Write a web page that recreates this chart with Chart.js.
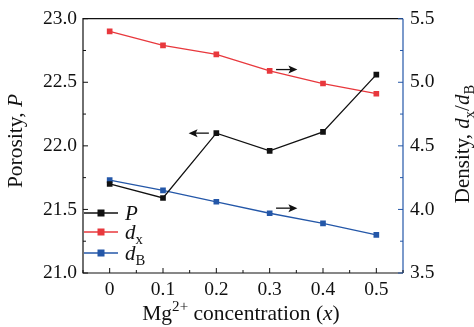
<!DOCTYPE html>
<html>
<head>
<meta charset="utf-8">
<script src="https://cdn.jsdelivr.net/npm/chart.js@4.4.0/dist/chart.umd.min.js"></script>
<style>
  html, body { margin: 0; padding: 0; background: #fff; }
  #wrap { width: 474px; height: 327px; position: relative; }
</style>
</head>
<body>
<div id="wrap"><canvas id="porosity"></canvas></div>
<script>
let concentration = [0, 0.1, 0.2, 0.3, 0.4, 0.5];
let porosity = [21.70, 21.59, 22.10, 21.96, 22.11, 22.56];
let densityX = [5.40, 5.29, 5.22, 5.09, 4.99, 4.91];
let densityB = [4.23, 4.15, 4.06, 3.97, 3.89, 3.80];

let xTicks = [0, 0.1, 0.2, 0.3, 0.4, 0.5];
let leftTicks = [21.0, 21.5, 22.0, 22.5, 23.0];
let rightTicks = [3.5, 4.0, 4.5, 5.0, 5.5];

const BLACK = "#111111";
const RED = "#e8383d";
const BLUE = "#2457a8";
const SERIF = "'Liberation Serif', 'DejaVu Serif', serif";

function pts(ys) {
  return concentration.map((x, i) => ({ x: x, y: ys[i] }));
}

// draw a run of text pieces: {t, it, sub, sup}
function richWidth(ctx, parts, size) {
  let w = 0;
  parts.forEach(p => {
    let s = (p.sub || p.sup) ? size * 0.7 : size;
    ctx.font = (p.it ? "italic " : "") + s + "px " + SERIF;
    w += ctx.measureText(p.t).width;
  });
  return w;
}
function richText(ctx, parts, x, y, size) {
  ctx.textBaseline = "alphabetic";
  ctx.textAlign = "left";
  parts.forEach(p => {
    let s = (p.sub || p.sup) ? size * 0.7 : size;
    let dy = p.sub ? size * 0.25 : (p.sup ? -size * 0.4 : 0);
    ctx.font = (p.it ? "italic " : "") + s + "px " + SERIF;
    ctx.fillText(p.t, x, y + dy);
    x += ctx.measureText(p.t).width;
  });
}

function arrow(ctx, x1, y1, x2, y2) {
  let dir = Math.sign(x2 - x1);
  ctx.strokeStyle = BLACK;
  ctx.fillStyle = BLACK;
  ctx.lineWidth = 1.3;
  ctx.beginPath();
  ctx.moveTo(x1, y1);
  ctx.lineTo(x2 - dir * 6, y2);
  ctx.stroke();
  ctx.beginPath();
  ctx.moveTo(x2, y2);
  ctx.lineTo(x2 - dir * 9, y2 - 4);
  ctx.lineTo(x2 - dir * 7, y2);
  ctx.lineTo(x2 - dir * 9, y2 + 4);
  ctx.closePath();
  ctx.fill();
}

const decor = {
  id: "decor",
  afterDatasetsDraw(chart) {
    const ctx = chart.ctx;
    const a = chart.chartArea;
    const sx = chart.scales.x, sl = chart.scales.y, sr = chart.scales.y1;
    ctx.save();

    // frame
    ctx.lineWidth = 1.2;
    ctx.strokeStyle = BLACK;
    ctx.beginPath();
    ctx.moveTo(a.right, a.top); ctx.lineTo(a.left, a.top);
    ctx.lineTo(a.left, a.bottom); ctx.lineTo(a.right, a.bottom);
    ctx.stroke();
    ctx.strokeStyle = BLUE;
    ctx.beginPath();
    ctx.moveTo(a.right, a.top); ctx.lineTo(a.right, a.bottom);
    ctx.stroke();

    // inward ticks
    ctx.lineWidth = 1;
    ctx.strokeStyle = BLACK;
    for (let v = -0.05; v <= 0.551; v += 0.05) {
      let px = sx.getPixelForValue(v);
      let major = Math.abs(Math.round(v * 10) - v * 10) < 0.01;
      ctx.beginPath();
      ctx.moveTo(px, a.bottom); ctx.lineTo(px, a.bottom - (major ? 5 : 3));
      ctx.stroke();
    }
    for (let v = 21; v <= 23.001; v += 0.25) {
      let py = sl.getPixelForValue(v);
      let major = Math.abs(v * 2 - Math.round(v * 2)) < 0.01;
      ctx.beginPath();
      ctx.moveTo(a.left, py); ctx.lineTo(a.left + (major ? 5 : 3), py);
      ctx.stroke();
    }
    ctx.strokeStyle = BLUE;
    for (let v = 3.5; v <= 5.501; v += 0.25) {
      let py = sr.getPixelForValue(v);
      let major = Math.abs(v * 2 - Math.round(v * 2)) < 0.01;
      ctx.beginPath();
      ctx.moveTo(a.right, py); ctx.lineTo(a.right - (major ? 5 : 3), py);
      ctx.stroke();
    }

    // arrows pointing to each series' axis
    arrow(ctx, sx.getPixelForValue(0.186), sl.getPixelForValue(22.10),
               sx.getPixelForValue(0.148), sl.getPixelForValue(22.10));
    arrow(ctx, sx.getPixelForValue(0.312), sr.getPixelForValue(5.10),
               sx.getPixelForValue(0.352), sr.getPixelForValue(5.10));
    arrow(ctx, sx.getPixelForValue(0.312), sr.getPixelForValue(4.01),
               sx.getPixelForValue(0.352), sr.getPixelForValue(4.01));

    // legend
    const rows = [
      { c: BLACK, y: 213, parts: [{ t: "P", it: true }] },
      { c: RED, y: 232, parts: [{ t: "d", it: true }, { t: "x", sub: true }] },
      { c: BLUE, y: 253, parts: [{ t: "d", it: true }, { t: "B", sub: true }] }
    ];
    rows.forEach(r => {
      ctx.strokeStyle = r.c;
      ctx.fillStyle = r.c;
      ctx.lineWidth = 1.3;
      ctx.beginPath();
      ctx.moveTo(a.left + 1, r.y); ctx.lineTo(a.left + 35, r.y);
      ctx.stroke();
      ctx.fillRect(a.left + 18 - 3.5, r.y - 3.5, 7, 7);
      ctx.fillStyle = BLACK;
      richText(ctx, r.parts, a.left + 42, r.y + 7, 21);
    });

    // axis titles
    ctx.fillStyle = BLACK;
    let xt = [{ t: "Mg" }, { t: "2+", sup: true }, { t: " concentration (" }, { t: "x", it: true }, { t: ")" }];
    let w = richWidth(ctx, xt, 21.5);
    richText(ctx, xt, 241 - w / 2, 320, 21.5);

    let lt = [{ t: "Porosity, " }, { t: "P", it: true }];
    ctx.save();
    ctx.translate(22, 141);
    ctx.rotate(-Math.PI / 2);
    w = richWidth(ctx, lt, 21.5);
    richText(ctx, lt, -w / 2, 0, 21.5);
    ctx.restore();

    let rt = [{ t: "Density, " }, { t: "d", it: true }, { t: "x", sub: true }, { t: "/" }, { t: "d", it: true }, { t: "B", sub: true }];
    ctx.save();
    ctx.translate(469, 144);
    ctx.rotate(-Math.PI / 2);
    w = richWidth(ctx, rt, 21);
    richText(ctx, rt, -w / 2, 0, 21);
    ctx.restore();

    ctx.restore();
  }
};

const ctx = document.getElementById("porosity").getContext("2d");

new Chart(ctx, {
  type: "line",
  data: {
    datasets: [
      {
        label: "P",
        data: pts(porosity),
        yAxisID: "y",
        borderColor: BLACK,
        backgroundColor: BLACK,
      },
      {
        label: "dx",
        data: pts(densityX),
        yAxisID: "y1",
        borderColor: RED,
        backgroundColor: RED,
      },
      {
        label: "dB",
        data: pts(densityB),
        yAxisID: "y1",
        borderColor: BLUE,
        backgroundColor: BLUE,
      },
    ],
  },
  options: {
    responsive: true,
    maintainAspectRatio: false,
    animation: false,
    layout: { padding: { top: 10, right: 0, left: 0, bottom: 0 } },
    elements: {
      line: { borderWidth: 1.3, tension: 0 },
      point: { pointStyle: "rect", radius: 4, borderWidth: 0, hoverRadius: 4 },
    },
    plugins: {
      legend: { display: false },
      tooltip: { enabled: false },
    },
    scales: {
      x: {
        type: "linear",
        min: -0.05,
        max: 0.55,
        grid: { display: false, drawTicks: false },
        border: { display: false },
        afterBuildTicks: (s) => { s.ticks = xTicks.map(v => ({ value: v })); },
        afterFit: (s) => { s.height = 54; },
        ticks: {
          padding: 5,
          color: BLACK,
          font: { family: SERIF, size: 19.5 },
          callback: (v) => v === 0 ? "0" : v.toFixed(1),
        },
      },
      y: {
        position: "left",
        min: 21,
        max: 23,
        grid: { display: false, drawTicks: false },
        border: { display: false },
        afterBuildTicks: (s) => { s.ticks = leftTicks.map(v => ({ value: v })); },
        afterFit: (s) => { s.width = 83; },
        ticks: {
          padding: 6,
          color: BLACK,
          font: { family: SERIF, size: 19.5 },
          callback: (v) => v.toFixed(1),
        },
      },
      y1: {
        position: "right",
        min: 3.5,
        max: 5.5,
        grid: { display: false, drawTicks: false },
        border: { display: false },
        afterBuildTicks: (s) => { s.ticks = rightTicks.map(v => ({ value: v })); },
        afterFit: (s) => { s.width = 71; },
        ticks: {
          padding: 7,
          color: BLACK,
          font: { family: SERIF, size: 19.5 },
          callback: (v) => v.toFixed(1),
        },
      },
    },
  },
  plugins: [decor],
});
</script>
</body>
</html>
